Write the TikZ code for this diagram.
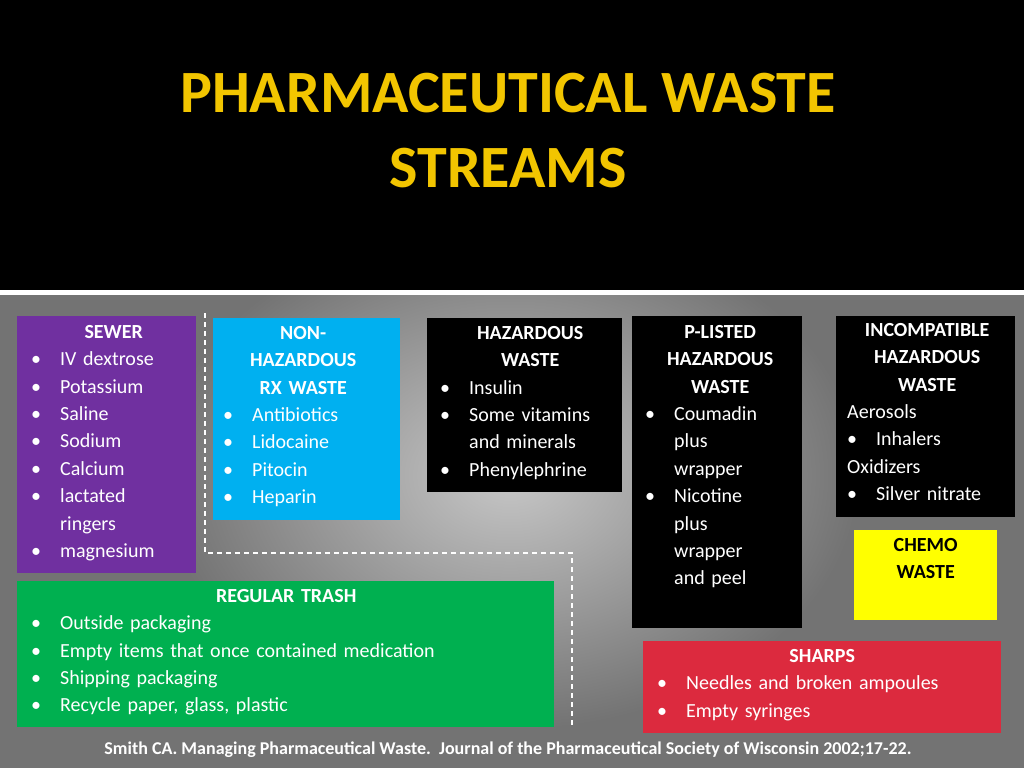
\documentclass[tikz,border=0pt]{standalone}
\usepackage{fontspec}
\setmainfont{Carlito}
\definecolor{titleyellow}{HTML}{F2C500}
\definecolor{sewerpurple}{HTML}{7030A0}
\definecolor{rxcyan}{HTML}{00B0F0}
\definecolor{trashgreen}{HTML}{00B050}
\definecolor{sharpsred}{HTML}{DC2A3E}
\definecolor{chemoyellow}{HTML}{FFFF00}
\newcommand{\bul}[1]{\makebox[29pt][l]{\textbullet}#1}
\newcommand{\cont}[1]{\hspace*{29pt}#1}
\newcommand{\head}[1]{\makebox[\linewidth]{\textbf{#1}}}
\tikzset{
  boxtext/.style={anchor=north west,align=left,inner sep=0pt,font=\fontsize{20}{27.4}\selectfont},
}
\begin{document}
\begin{tikzpicture}[x=1pt,y=-1pt]
   \useasboundingbox (0,0) rectangle (1024,768);
   % background
   \fill[black!55] (0,293) rectangle (1024,768);
   \shade[inner color=black!22,outer color=black!55] (160,220) rectangle (860,730);
   \fill[black] (0,0) rectangle (1024,291);
   \fill[white] (0,290) rectangle (1024,295);
   \node[font=\fontsize{60}{75}\selectfont\bfseries,text=titleyellow,align=center] (title) at (508,131) {PHARMACEUTICAL WASTE\\STREAMS};
   % dashed divider
   \coordinate (d1) at (205,313);
   \coordinate (d2) at (205,553);
   \coordinate (d3) at (572,553);
   \coordinate (d4) at (572,728);
   \draw[white,line width=1.5pt,dash pattern=on 5pt off 4pt] (d1) -- (d2) -- (d3) -- (d4);
   % boxes
   \fill[sewerpurple] (17,316) rectangle (196,573);
   \fill[rxcyan] (213,318) rectangle (400,520);
   \fill[black] (427,318) rectangle (622,492);
   \fill[black] (632,316) rectangle (802,628);
   \fill[black] (836,316) rectangle (1015,517);
   \fill[chemoyellow] (854,530) rectangle (997,620);
   \fill[trashgreen] (17,581) rectangle (554,727);
   \fill[sharpsred] (643,641) rectangle (1001,733);
   % texts
   \node[boxtext,text=white,text width=165pt] (sewer) at (31,325) {\head{SEWER}\\\bul{IV dextrose}\\\bul{Potassium}\\\bul{Saline}\\\bul{Sodium}\\\bul{Calcium}\\\bul{lactated}\\\cont{ringers}\\\bul{magnesium}};
   \node[boxtext,text=white,text width=180pt] (nonhaz) at (223,326) {\makebox[160pt]{\textbf{NON-}}\\\makebox[160pt]{\textbf{HAZARDOUS}}\\\makebox[160pt]{\textbf{RX WASTE}}\\\bul{Antibiotics}\\\bul{Lidocaine}\\\bul{Pitocin}\\\bul{Heparin}};
   \node[boxtext,text=white,text width=182pt] (hazard) at (440,326) {\makebox[180pt]{\textbf{HAZARDOUS}}\\\makebox[180pt]{\textbf{WASTE}}\\\bul{Insulin}\\\bul{Some vitamins}\\\cont{and minerals}\\\bul{Phenylephrine}};
   \node[boxtext,text=white,text width=160pt] (plisted) at (645,325) {\makebox[150pt]{\textbf{P-LISTED}}\\\makebox[150pt]{\textbf{HAZARDOUS}}\\\makebox[150pt]{\textbf{WASTE}}\\\bul{Coumadin}\\\cont{plus}\\\cont{wrapper}\\\bul{Nicotine}\\\cont{plus}\\\cont{wrapper}\\\cont{and peel}};
   \node[boxtext,text=white,text width=175pt] (incomp) at (847,323) {\makebox[160pt]{\textbf{INCOMPATIBLE}}\\\makebox[160pt]{\textbf{HAZARDOUS}}\\\makebox[160pt]{\textbf{WASTE}}\\Aerosols\\\bul{Inhalers}\\Oxidizers\\\bul{Silver nitrate}};
   \node[boxtext,text=black,align=center] (chemo) at (854,538) {\makebox[143pt]{\textbf{CHEMO}}\\\makebox[143pt]{\textbf{WASTE}}};
   \node[boxtext,text=white,text width=510pt] (trash) at (31,589) {\makebox[510pt]{\textbf{REGULAR TRASH}}\\\bul{Outside packaging}\\\bul{Empty items that once contained medication}\\\bul{Shipping packaging}\\\bul{Recycle paper, glass, plastic}};
   \node[boxtext,text=white,text width=340pt] (sharps) at (657,649) {\makebox[330pt]{\textbf{SHARPS}}\\\bul{Needles and broken ampoules}\\\bul{Empty syringes}};
   \node[text=white,font=\fontsize{18}{22}\selectfont\bfseries] (ref) at (508,750) {Smith CA. Managing Pharmaceutical Waste.\ \ Journal of the Pharmaceutical Society of Wisconsin 2002;17-22.};
\end{tikzpicture}
\end{document}
